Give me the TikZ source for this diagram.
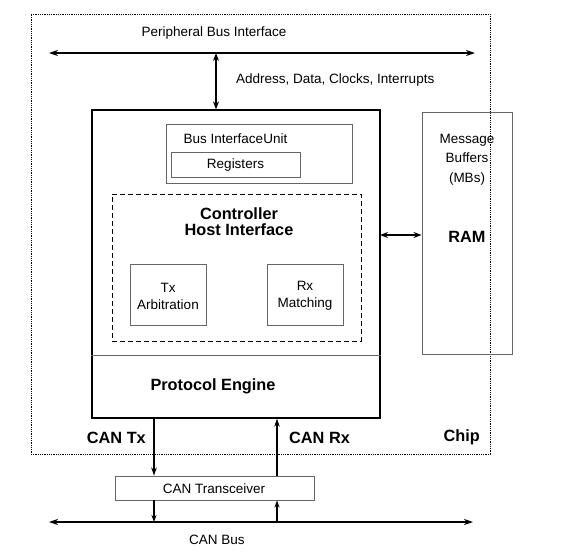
\documentclass[tikz,border=0pt]{standalone}
\usepackage{fontspec}
\setmainfont{Liberation Sans}
\usetikzlibrary{arrows.meta}
\begin{document}
\begin{tikzpicture}[x=1pt,y=-1pt,
  lbl/.style={inner sep=0pt, font=\fontsize{13.5}{17}\selectfont, align=center},
  blbl/.style={inner sep=0pt, font=\fontsize{16.3}{17}\selectfont\bfseries, align=center},
  gbox/.style={draw=black!60, line width=0.9pt, inner sep=0pt},
  bus/.style={line width=2.6pt, {Stealth[length=9pt,width=6pt]}-{Stealth[length=9pt,width=6pt]}},
  dbl/.style={line width=2pt, {Stealth[length=8pt,width=6pt]}-{Stealth[length=8pt,width=6pt]}},
  sig/.style={line width=1.3pt, -{Stealth[length=8pt,width=5.5pt]}}
]
\useasboundingbox (0,0) rectangle (571,558);
% chip
\node[draw, densely dotted, line width=0.8pt, minimum width=459pt, minimum height=440pt, inner sep=0pt] (chip) at (260.5,234) {};
\node[blbl, anchor=east] (chiplbl) at (480,437) {Chip};
% peripheral bus
\coordinate (pbl) at (49,53);
\coordinate (pbr) at (475,53);
\draw[bus] (pbl) -- (pbr);
\node[lbl] (pbi) at (214,33.5) {Peripheral Bus Interface};
% main box
\node[draw, line width=1.3pt, minimum width=288pt, minimum height=308pt, inner sep=0pt] (main) at (236,264) {};
\draw[black!60, line width=0.9pt] (main.west |- 0,355) -- (main.east |- 0,355);
\node[blbl] (pe) at (213,386) {Protocol Engine};
% bus interface unit
\node[gbox, minimum width=186pt, minimum height=59pt] (biu) at (259,153.5) {};
\node[lbl] (biul) at (235.5,139) {Bus InterfaceUnit};
\node[gbox, minimum width=129pt, minimum height=25pt] (reg) at (235.5,164.5) {};
\node[lbl] (regl) at (235.5,165) {Registers};
% controller host interface
\node[draw, line width=0.6pt, dash pattern=on 5pt off 3pt, minimum width=249pt, minimum height=147pt, inner sep=0pt] (chi) at (236.5,267.5) {};
\node[blbl] (chil) at (239,221.5) {Controller\\[-1pt]Host Interface};
\node[gbox, minimum width=76pt, minimum height=61pt] (tx) at (168,294.5) {};
\node[lbl] (txl) at (168,296) {Tx\\Arbitration};
\node[gbox, minimum width=76pt, minimum height=61pt] (rx) at (305,294.5) {};
\node[lbl] (rxl) at (305,296) {Rx\\Matching};
% RAM
\node[gbox, minimum width=90pt, minimum height=242pt] (ram) at (467,233) {};
\node[lbl, font=\fontsize{13.5}{19.5}\selectfont] (mb) at (467,159.5) {Message\\Buffers\\(MBs)};
\node[blbl] (raml) at (467,237) {RAM};
% address arrow
\coordinate (tap) at (216,53);
\draw[dbl] (tap) -- (tap |- main.north);
\node[lbl, anchor=west] (adl) at (236,80.5) {Address, Data, Clocks, Interrupts};
% RAM arrow
\coordinate (ra) at (380,235);
\draw[dbl] (ra) -- (ra -| ram.west);
% transceiver
\node[gbox, minimum width=199pt, minimum height=24pt] (trx) at (214.5,488) {};
\node[lbl] (trxl) at (214,488.5) {CAN Transceiver};
% CAN Tx / Rx
\coordinate (txx) at (154,0);
\coordinate (rxx) at (277,0);
\draw[sig] (txx |- main.south) -- (txx |- trx.north);
\draw[sig] (rxx |- trx.north) -- (rxx |- main.south);
\node[blbl, anchor=east] (cantx) at (146,438) {CAN Tx};
\node[blbl, anchor=west] (canrx) at (289,438) {CAN Rx};
% CAN bus
\coordinate (cbl) at (49,522);
\coordinate (cbr) at (473,522);
\draw[bus] (cbl) -- (cbr);
\draw[line width=1.1pt, -{Stealth[length=7pt,width=5pt]}] (txx |- trx.south) -- (txx |- cbl);
\draw[line width=1.6pt, -{Stealth[length=7pt,width=5pt]}] (rxx |- cbl) -- (rxx |- trx.south);
\node[lbl] (cbus) at (217,540) {CAN Bus};
\end{tikzpicture}
\end{document}
